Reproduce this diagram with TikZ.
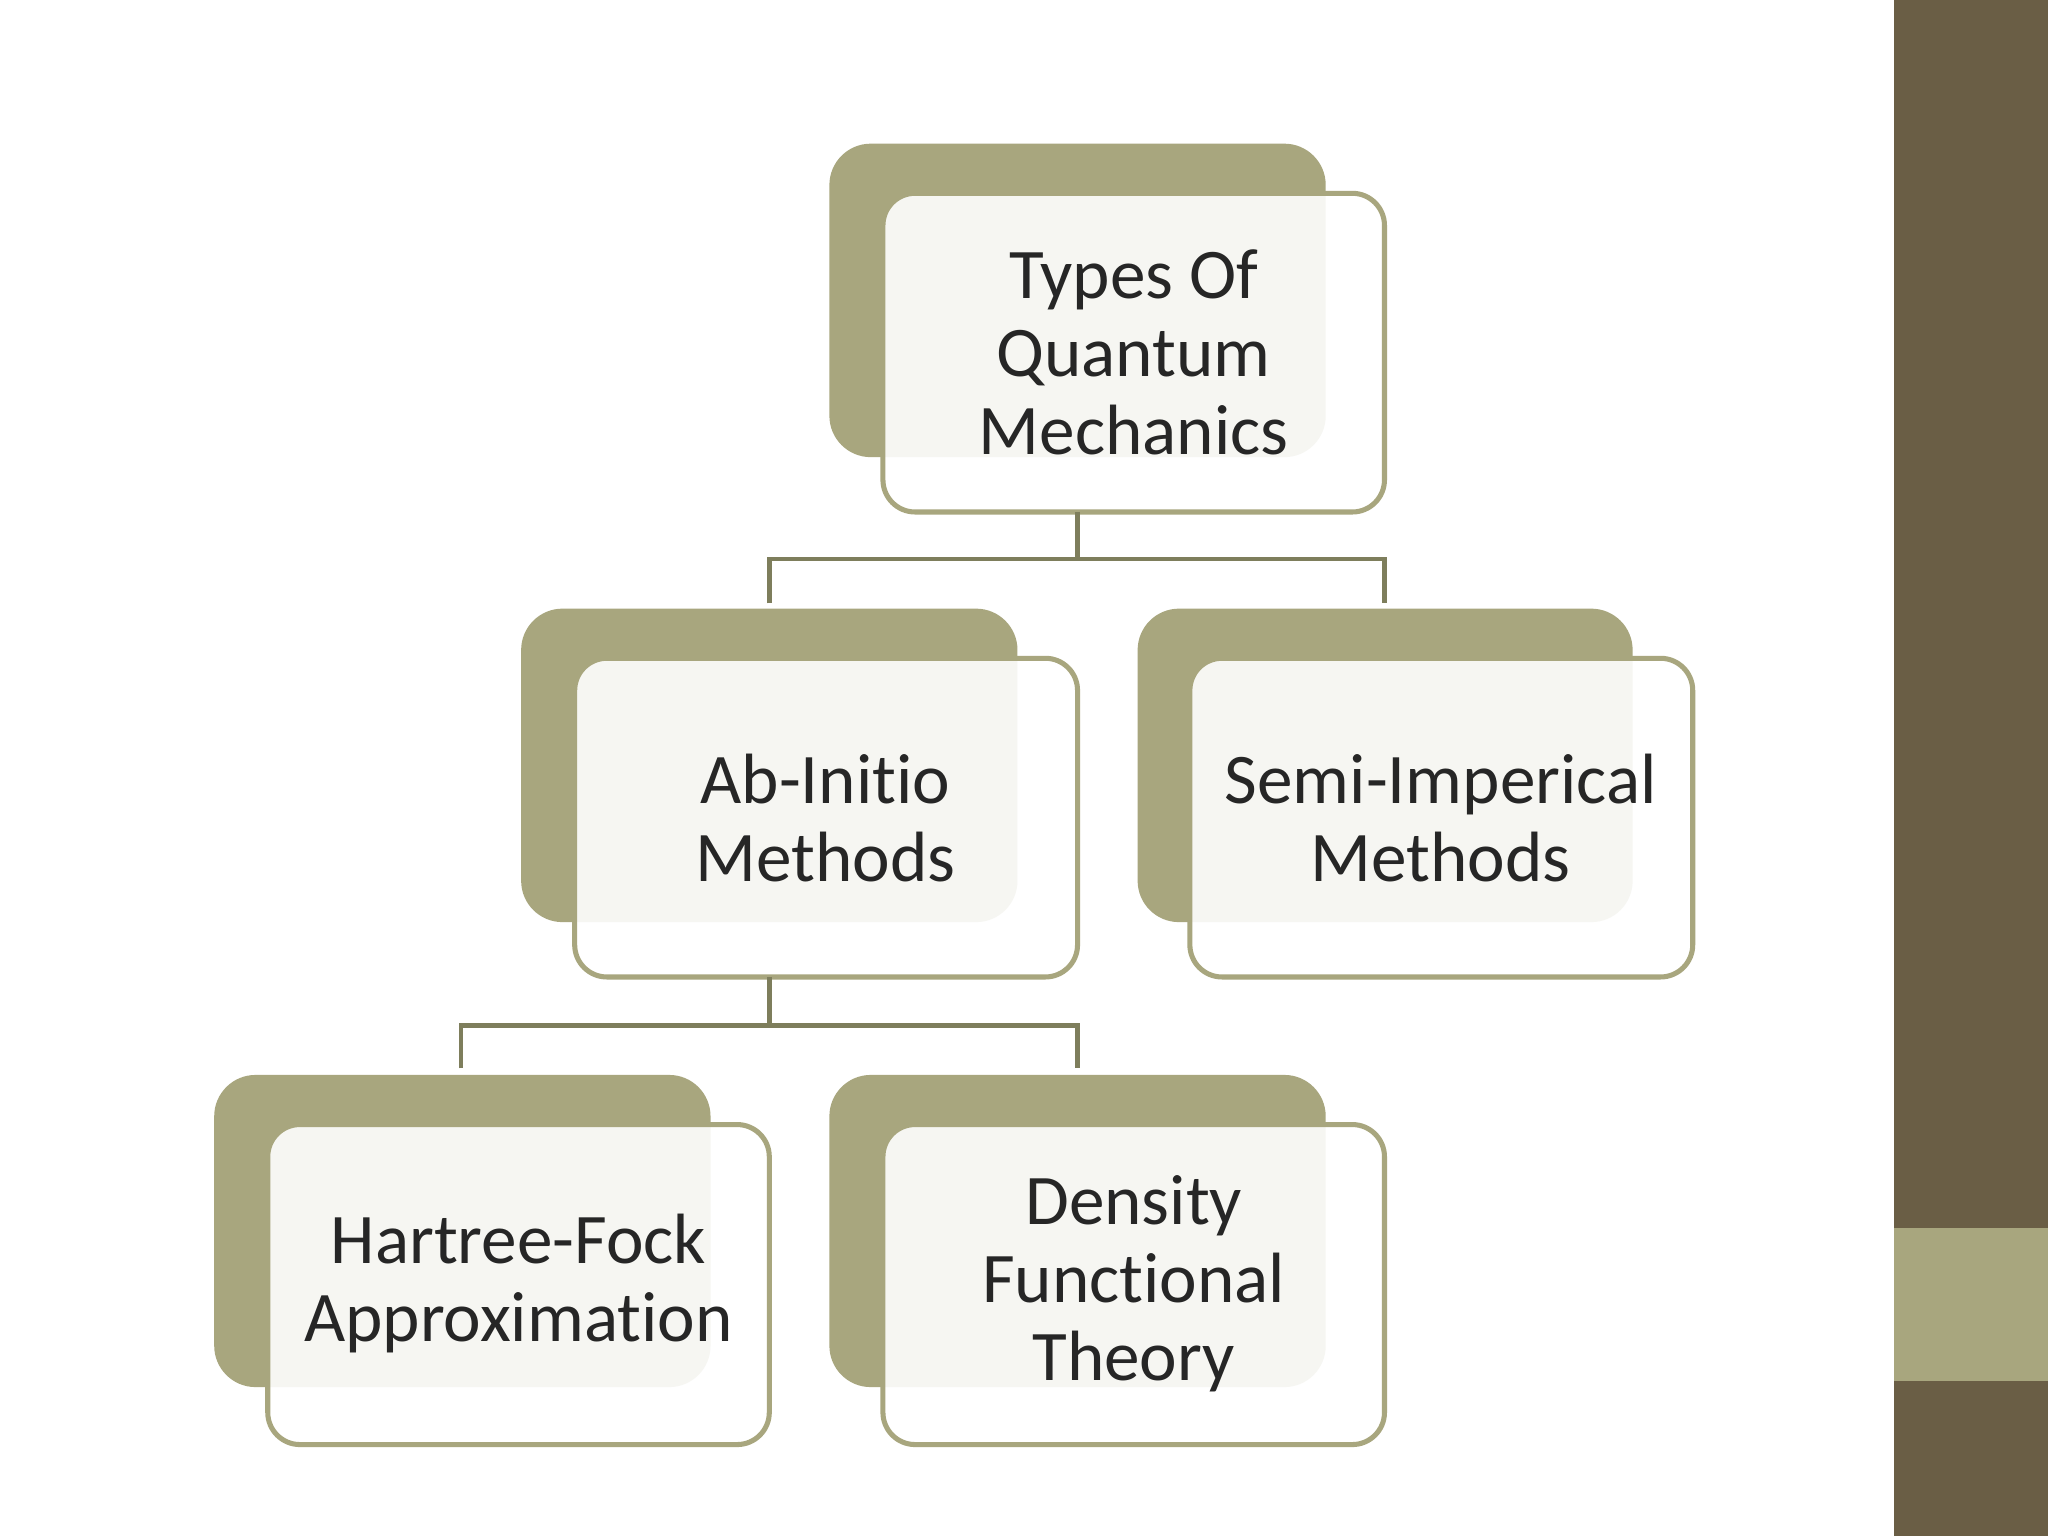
\documentclass[tikz,border=0pt]{standalone}
\usepackage{fontspec}
\setmainfont[Ligatures={NoCommon}]{Carlito}
\definecolor{olive}{HTML}{A8A67E}
\definecolor{conn}{HTML}{7E7E5C}
\definecolor{darkb}{HTML}{6A5E45}
\pgfdeclareradialshading{bgshade}{\pgfpoint{0bp}{0bp}}{color(0bp)=(white);color(27bp)=(white);color(40bp)=(black!7);color(50bp)=(black!10)}
\begin{document}
\begin{tikzpicture}[x=0.01cm,y=-0.01cm,
  back/.style={fill=olive,rounded corners=9pt},
  front/.style={draw=olive,line width=1.1pt,fill=white,fill opacity=0.9,text opacity=1,rounded corners=7pt},
  lab/.style={font=\fontsize{15.5}{17}\selectfont,align=center,text=black!85},
  conn/.style={draw=conn,line width=1pt}]
\useasboundingbox (0,0) rectangle (1568,1176);
\begin{scope}
\clip (0,0) rectangle (1450,1176);
\shade[shading=bgshade] (725,560) circle (900);
\end{scope}
\fill[darkb] (1450,0) rectangle (1568,1176);
\fill[olive] (1450,940) rectangle (1568,1057);
% boxes
\fill[back] (635,110) rectangle (1015,350);
\path[front] (676,148) rectangle (1060,392);
\node[lab] (top) at (868,270) {Types Of\\Quantum\\Mechanics};
\fill[back] (399,466) rectangle (779,706);
\path[front] (440,504) rectangle (825,748);
\node[lab] (ab) at (632,626) {Ab-Initio\\Methods};
\fill[back] (871,466) rectangle (1250,706);
\path[front] (911,504) rectangle (1296,748);
\node[lab] (semi) at (1103,626) {Semi-Imperical\\Methods};
\fill[back] (164,823) rectangle (544,1062);
\path[front] (205,861) rectangle (589,1106);
\node[lab] (hf) at (397,983) {Hartree-Fock\\Approximation};
\fill[back] (635,823) rectangle (1015,1062);
\path[front] (676,861) rectangle (1060,1106);
\node[lab] (dft) at (868,983) {Density\\Functional\\Theory};
% connectors
\coordinate (t0) at (825,392); \coordinate (t1) at (825,428);
\coordinate (l1) at (589,428); \coordinate (l2) at (589,462);
\coordinate (r1) at (1060,428); \coordinate (r2) at (1060,462);
\draw[conn] (t0)--(t1) (l2)--(l1)--(r1)--(r2);
\coordinate (a0) at (589,748); \coordinate (a1) at (589,785);
\coordinate (b1) at (353,785); \coordinate (b2) at (353,818);
\coordinate (c1) at (825,785); \coordinate (c2) at (825,818);
\draw[conn] (a0)--(a1) (b2)--(b1)--(c1)--(c2);
\end{tikzpicture}
\end{document}
